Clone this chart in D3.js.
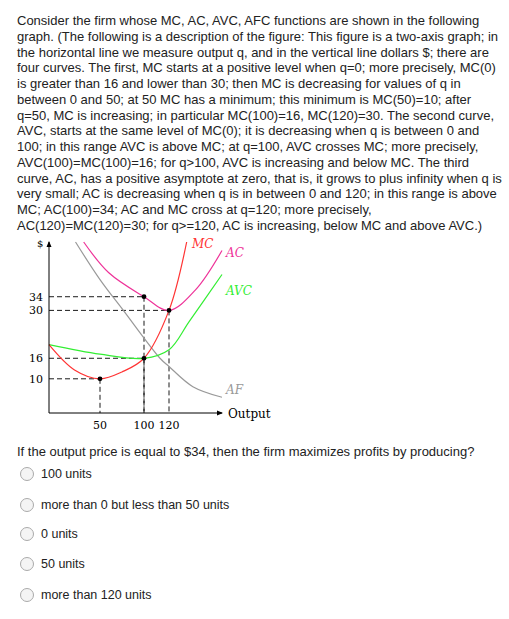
<!DOCTYPE html><html><head><script src="https://d3js.org/d3.v7.min.js"></script>
<style>body{margin:0;background:#fff}</style></head><body><svg id="s" width="509" height="619"></svg>
<script>
const paragraph=["Consider the firm whose MC, AC, AVC, AFC functions are shown in the following","graph. (The following is a description of the figure: This figure is a two-axis graph; in","the horizontal line we measure output q, and in the vertical line dollars $; there are","four curves. The first, MC starts at a positive level when q=0; more precisely, MC(0)","is greater than 16 and lower than 30; then MC is decreasing for values of q in","between 0 and 50; at 50 MC has a minimum; this minimum is MC(50)=10; after","q=50, MC is increasing; in particular MC(100)=16, MC(120)=30. The second curve,","AVC, starts at the same level of MC(0); it is decreasing when q is between 0 and","100; in this range AVC is above MC; at q=100, AVC crosses MC; more precisely,","AVC(100)=MC(100)=16; for q>100, AVC is increasing and below MC. The third","curve, AC, has a positive asymptote at zero, that is, it grows to plus infinity when q is","very small; AC is decreasing when q is in between 0 and 120; in this range is above","MC; AC(100)=34; AC and MC cross at q=120; more precisely,","AC(120)=MC(120)=30; for q>=120, AC is increasing, below MC and above AVC.)"];
const question="If the output price is equal to $34, then the firm maximizes profits by producing?";
const options=["100 units","more than 0 but less than 50 units","0 units","50 units","more than 120 units"];
const xTicks=[50,100,120], yTicks=[10,16,30,34];
const mc=[[0,20],[25,12.6],[50,10],[75,12],[100,16],[120,30],[140,50]];
const ac=[[34,50],[60,41],[100,34],[120,30],[150,36],[180,47.5]];
const avc=[[0,20],[50,17.2],[100,16],[120,18.5],[143,26.8],[180,40.5]];
const af=[[26,50],[50,39],[76.5,30],[112.8,16],[120,13.6],[147,7.7],[180,4.6]];
const dots=[[50,10],[100,16],[100,34],[120,30]];
const svg=d3.select("#s");
const t=svg.append("text").attr("font-family","Arial, Liberation Sans").attr("font-size",13).attr("fill","#222");
paragraph.forEach((l,i)=>t.append("tspan").attr("x",17).attr("y",25+i*15.75).text(l));
const x=d3.scaleLinear().domain([0,50,100,120,180]).range([49,100,144,169,222]);
const y=d3.scaleLinear().domain([0,50]).range([413,242]);
const g=svg.append("g");
const serif="DejaVu Serif, Liberation Serif";
dots.forEach(([q,v])=>{
 g.append("line").attr("x1",x(0)).attr("x2",x(q)).attr("y1",y(v)).attr("y2",y(v)).attr("stroke","#000").attr("stroke-dasharray","5,3").attr("stroke-width",0.9);
 g.append("line").attr("x1",x(q)).attr("x2",x(q)).attr("y1",y(v)).attr("y2",y(0)).attr("stroke","#000").attr("stroke-dasharray","5,3").attr("stroke-width",0.9);
});
const line=d3.line().x(d=>x(d[0])).y(d=>y(d[1])).curve(d3.curveCatmullRom);
[[af,"#999"],[avc,"#33ee33"],[ac,"#ee3399"],[mc,"#ff3333"]].forEach(([d,c])=>g.append("path").attr("d",line(d)).attr("fill","none").attr("stroke",c).attr("stroke-width",1.2));
dots.forEach(([q,v])=>g.append("circle").attr("cx",x(q)).attr("cy",y(v)).attr("r",2.4).attr("fill","#000"));
g.append("line").attr("x1",x(0)).attr("x2",x(0)).attr("y1",y(0)).attr("y2",y(50)).attr("stroke","#000");
g.append("line").attr("x1",x(0)).attr("x2",222).attr("y1",y(0)).attr("y2",y(0)).attr("stroke","#000");
g.append("path").attr("d",`M${x(0)-2.5},${y(50)+5}L${x(0)},${y(50)-1}L${x(0)+2.5},${y(50)+5}Z`).attr("fill","#000");
g.append("path").attr("d",`M217,${y(0)-2.5}L223,${y(0)}L217,${y(0)+2.5}Z`).attr("fill","#000");
yTicks.forEach(v=>g.append("text").attr("x",43).attr("y",y(v)+4).attr("text-anchor","end").attr("font-family",serif).attr("font-size",11).text(v));
xTicks.forEach(q=>g.append("text").attr("x",x(q)).attr("y",429).attr("text-anchor","middle").attr("font-family",serif).attr("font-size",11).text(q));
g.append("text").attr("x",37).attr("y",247).attr("font-family",serif).attr("font-size",10).text("$");
[["MC",192,248,"#ff3333"],["AC",226,257,"#ee3399"],["AVC",226,295,"#33ee33"],["AF",226,394,"#999"]].forEach(([s,a,b,c])=>g.append("text").attr("x",a).attr("y",b).attr("font-family",serif).attr("font-style","italic").attr("font-size",12).attr("fill",c).text(s));
g.append("text").attr("x",228).attr("y",418).attr("font-family",serif).attr("font-size",12).text("Output");
svg.append("text").attr("x",17).attr("y",456).attr("font-family","Arial, Liberation Sans").attr("font-size",13).attr("fill","#222").text(question);
const oy=[478,509,538,568,599];
options.forEach((o,i)=>{
 svg.append("circle").attr("cx",27).attr("cy",oy[i]-4).attr("r",6.5).attr("fill","#f4f4f4").attr("stroke","#aaa");
 svg.append("text").attr("x",41).attr("y",oy[i]).attr("font-family","Arial, Liberation Sans").attr("font-size",12.5).attr("fill","#222").text(o);
});
</script></body></html>
